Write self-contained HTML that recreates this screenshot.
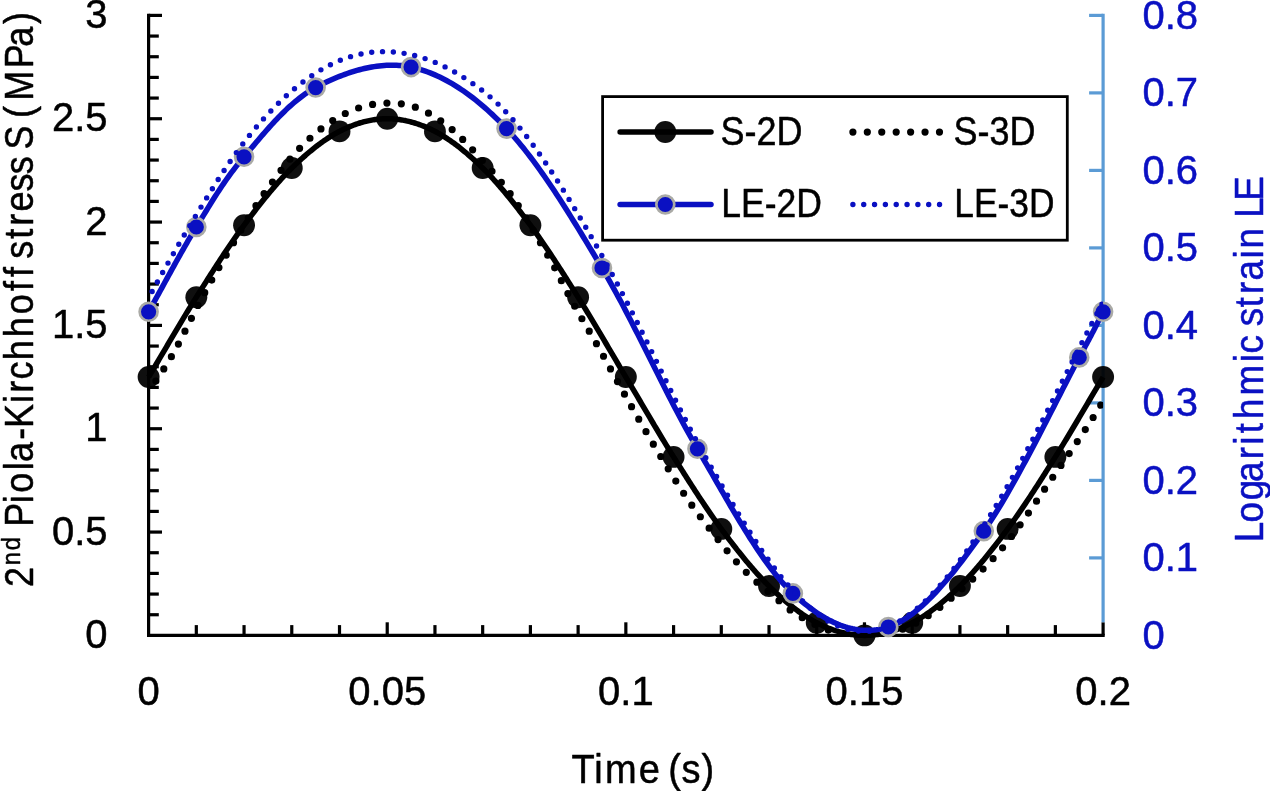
<!DOCTYPE html>
<html lang="en">
<head>
<meta charset="utf-8">
<title>2nd Piola-Kirchhoff stress and logarithmic strain vs time</title>
<style>
html,body{margin:0;padding:0;background:#ffffff;}
body{width:1270px;height:791px;overflow:hidden;}
svg{display:block;}
text{font-family:"Liberation Sans", sans-serif;}
</style>
</head>
<body>
<svg width="1270" height="791" viewBox="0 0 1270 791">
<rect x="0" y="0" width="1270" height="791" fill="#ffffff"/>
<defs><clipPath id="plotd"><rect x="148.60" y="0" width="954.50" height="637.00"/></clipPath></defs>
<g stroke="#000000" stroke-width="3.20" fill="none" stroke-linecap="butt">
<line x1="148.60" y1="13.80" x2="148.60" y2="637.00"/>
<line x1="147.00" y1="635.40" x2="1104.70" y2="635.40"/>
<line x1="148.60" y1="614.73" x2="158.80" y2="614.73"/>
<line x1="148.60" y1="594.07" x2="158.80" y2="594.07"/>
<line x1="148.60" y1="573.40" x2="158.80" y2="573.40"/>
<line x1="148.60" y1="552.73" x2="158.80" y2="552.73"/>
<line x1="148.60" y1="532.07" x2="162.00" y2="532.07"/>
<line x1="148.60" y1="511.40" x2="158.80" y2="511.40"/>
<line x1="148.60" y1="490.73" x2="158.80" y2="490.73"/>
<line x1="148.60" y1="470.07" x2="158.80" y2="470.07"/>
<line x1="148.60" y1="449.40" x2="158.80" y2="449.40"/>
<line x1="148.60" y1="428.73" x2="162.00" y2="428.73"/>
<line x1="148.60" y1="408.07" x2="158.80" y2="408.07"/>
<line x1="148.60" y1="387.40" x2="158.80" y2="387.40"/>
<line x1="148.60" y1="366.73" x2="158.80" y2="366.73"/>
<line x1="148.60" y1="346.07" x2="158.80" y2="346.07"/>
<line x1="148.60" y1="325.40" x2="162.00" y2="325.40"/>
<line x1="148.60" y1="304.73" x2="158.80" y2="304.73"/>
<line x1="148.60" y1="284.07" x2="158.80" y2="284.07"/>
<line x1="148.60" y1="263.40" x2="158.80" y2="263.40"/>
<line x1="148.60" y1="242.73" x2="158.80" y2="242.73"/>
<line x1="148.60" y1="222.07" x2="162.00" y2="222.07"/>
<line x1="148.60" y1="201.40" x2="158.80" y2="201.40"/>
<line x1="148.60" y1="180.73" x2="158.80" y2="180.73"/>
<line x1="148.60" y1="160.07" x2="158.80" y2="160.07"/>
<line x1="148.60" y1="139.40" x2="158.80" y2="139.40"/>
<line x1="148.60" y1="118.73" x2="162.00" y2="118.73"/>
<line x1="148.60" y1="98.07" x2="158.80" y2="98.07"/>
<line x1="148.60" y1="77.40" x2="158.80" y2="77.40"/>
<line x1="148.60" y1="56.73" x2="158.80" y2="56.73"/>
<line x1="148.60" y1="36.07" x2="158.80" y2="36.07"/>
<line x1="148.60" y1="15.40" x2="162.00" y2="15.40"/>
<line x1="196.32" y1="635.40" x2="196.32" y2="625.10"/>
<line x1="244.05" y1="635.40" x2="244.05" y2="625.10"/>
<line x1="291.77" y1="635.40" x2="291.77" y2="625.10"/>
<line x1="339.50" y1="635.40" x2="339.50" y2="625.10"/>
<line x1="387.22" y1="635.40" x2="387.22" y2="622.30"/>
<line x1="434.95" y1="635.40" x2="434.95" y2="625.10"/>
<line x1="482.67" y1="635.40" x2="482.67" y2="625.10"/>
<line x1="530.40" y1="635.40" x2="530.40" y2="625.10"/>
<line x1="578.12" y1="635.40" x2="578.12" y2="625.10"/>
<line x1="625.85" y1="635.40" x2="625.85" y2="622.30"/>
<line x1="673.57" y1="635.40" x2="673.57" y2="625.10"/>
<line x1="721.30" y1="635.40" x2="721.30" y2="625.10"/>
<line x1="769.02" y1="635.40" x2="769.02" y2="625.10"/>
<line x1="816.75" y1="635.40" x2="816.75" y2="625.10"/>
<line x1="864.47" y1="635.40" x2="864.47" y2="622.30"/>
<line x1="912.20" y1="635.40" x2="912.20" y2="625.10"/>
<line x1="959.92" y1="635.40" x2="959.92" y2="625.10"/>
<line x1="1007.65" y1="635.40" x2="1007.65" y2="625.10"/>
<line x1="1055.37" y1="635.40" x2="1055.37" y2="625.10"/>
<line x1="1103.10" y1="635.40" x2="1103.10" y2="622.30"/>
</g>
<g stroke="#5b9bd5" stroke-width="3.20" fill="none">
<line x1="1103.10" y1="13.80" x2="1103.10" y2="622.30"/>
<line x1="1089.10" y1="557.90" x2="1103.10" y2="557.90"/>
<line x1="1089.10" y1="480.40" x2="1103.10" y2="480.40"/>
<line x1="1089.10" y1="402.90" x2="1103.10" y2="402.90"/>
<line x1="1089.10" y1="325.40" x2="1103.10" y2="325.40"/>
<line x1="1089.10" y1="247.90" x2="1103.10" y2="247.90"/>
<line x1="1089.10" y1="170.40" x2="1103.10" y2="170.40"/>
<line x1="1089.10" y1="92.90" x2="1103.10" y2="92.90"/>
<line x1="1089.10" y1="15.40" x2="1103.10" y2="15.40"/>
</g>
<path d="M148.60,377.07 L149.79,375.07 L150.99,373.07 L152.18,371.06 L153.37,369.05 L154.57,367.03 L155.76,365.02 L156.95,363.00 L158.15,360.98 L159.34,358.95 L160.53,356.93 L161.72,354.90 L162.92,352.87 L164.11,350.84 L165.30,348.82 L166.50,346.79 L167.69,344.76 L168.88,342.73 L170.08,340.71 L171.27,338.68 L172.46,336.66 L173.66,334.64 L174.85,332.63 L176.04,330.62 L177.24,328.61 L178.43,326.60 L179.62,324.60 L180.81,322.60 L182.01,320.61 L183.20,318.63 L184.39,316.65 L185.59,314.67 L186.78,312.70 L187.97,310.74 L189.17,308.79 L190.36,306.84 L191.55,304.90 L192.75,302.97 L193.94,301.05 L195.13,299.14 L196.32,297.24 L197.52,295.34 L198.71,293.44 L199.90,291.55 L201.10,289.65 L202.29,287.76 L203.48,285.87 L204.68,283.98 L205.87,282.10 L207.06,280.21 L208.26,278.34 L209.45,276.46 L210.64,274.59 L211.84,272.72 L213.03,270.86 L214.22,269.01 L215.41,267.16 L216.61,265.31 L217.80,263.47 L218.99,261.64 L220.19,259.81 L221.38,257.99 L222.57,256.18 L223.77,254.38 L224.96,252.58 L226.15,250.80 L227.35,249.02 L228.54,247.25 L229.73,245.49 L230.93,243.74 L232.12,242.00 L233.31,240.27 L234.50,238.55 L235.70,236.84 L236.89,235.14 L238.08,233.46 L239.28,231.79 L240.47,230.13 L241.66,228.48 L242.86,226.84 L244.05,225.22 L245.24,223.61 L246.44,222.00 L247.63,220.41 L248.82,218.81 L250.02,217.23 L251.21,215.65 L252.40,214.08 L253.60,212.51 L254.79,210.96 L255.98,209.41 L257.17,207.87 L258.37,206.34 L259.56,204.82 L260.75,203.31 L261.95,201.80 L263.14,200.31 L264.33,198.83 L265.53,197.35 L266.72,195.89 L267.91,194.44 L269.11,193.00 L270.30,191.57 L271.49,190.15 L272.69,188.74 L273.88,187.35 L275.07,185.97 L276.26,184.60 L277.46,183.24 L278.65,181.90 L279.84,180.57 L281.04,179.26 L282.23,177.95 L283.42,176.67 L284.62,175.39 L285.81,174.13 L287.00,172.89 L288.20,171.66 L289.39,170.45 L290.58,169.25 L291.77,168.07 L292.97,166.90 L294.16,165.75 L295.35,164.60 L296.55,163.46 L297.74,162.34 L298.93,161.23 L300.13,160.13 L301.32,159.04 L302.51,157.96 L303.71,156.90 L304.90,155.84 L306.09,154.80 L307.29,153.77 L308.48,152.76 L309.67,151.76 L310.87,150.77 L312.06,149.79 L313.25,148.83 L314.44,147.88 L315.64,146.94 L316.83,146.02 L318.02,145.11 L319.22,144.22 L320.41,143.34 L321.60,142.48 L322.80,141.63 L323.99,140.79 L325.18,139.97 L326.38,139.17 L327.57,138.38 L328.76,137.61 L329.96,136.85 L331.15,136.11 L332.34,135.38 L333.53,134.67 L334.73,133.98 L335.92,133.30 L337.11,132.64 L338.31,132.00 L339.50,131.38 L340.69,130.77 L341.89,130.17 L343.08,129.59 L344.27,129.02 L345.47,128.47 L346.66,127.94 L347.85,127.41 L349.05,126.90 L350.24,126.41 L351.43,125.93 L352.62,125.47 L353.82,125.02 L355.01,124.59 L356.20,124.17 L357.40,123.76 L358.59,123.37 L359.78,123.00 L360.98,122.64 L362.17,122.30 L363.36,121.97 L364.56,121.66 L365.75,121.36 L366.94,121.08 L368.13,120.82 L369.33,120.57 L370.52,120.33 L371.71,120.11 L372.91,119.91 L374.10,119.72 L375.29,119.55 L376.49,119.40 L377.68,119.26 L378.87,119.14 L380.07,119.03 L381.26,118.94 L382.45,118.87 L383.65,118.81 L384.84,118.77 L386.03,118.74 L387.22,118.73 L388.42,118.74 L389.61,118.77 L390.80,118.81 L392.00,118.87 L393.19,118.94 L394.38,119.03 L395.58,119.14 L396.77,119.26 L397.96,119.40 L399.16,119.55 L400.35,119.72 L401.54,119.91 L402.74,120.11 L403.93,120.33 L405.12,120.57 L406.31,120.82 L407.51,121.08 L408.70,121.36 L409.89,121.66 L411.09,121.97 L412.28,122.30 L413.47,122.64 L414.67,123.00 L415.86,123.37 L417.05,123.76 L418.25,124.17 L419.44,124.59 L420.63,125.02 L421.83,125.47 L423.02,125.93 L424.21,126.41 L425.40,126.90 L426.60,127.41 L427.79,127.94 L428.98,128.47 L430.18,129.02 L431.37,129.59 L432.56,130.17 L433.76,130.77 L434.95,131.38 L436.14,132.00 L437.34,132.64 L438.53,133.30 L439.72,133.98 L440.92,134.67 L442.11,135.38 L443.30,136.11 L444.50,136.85 L445.69,137.61 L446.88,138.38 L448.07,139.17 L449.27,139.97 L450.46,140.79 L451.65,141.63 L452.85,142.48 L454.04,143.34 L455.23,144.22 L456.43,145.11 L457.62,146.02 L458.81,146.94 L460.01,147.88 L461.20,148.83 L462.39,149.79 L463.58,150.77 L464.78,151.76 L465.97,152.76 L467.16,153.77 L468.36,154.80 L469.55,155.84 L470.74,156.90 L471.94,157.96 L473.13,159.04 L474.32,160.13 L475.52,161.23 L476.71,162.34 L477.90,163.46 L479.10,164.60 L480.29,165.75 L481.48,166.90 L482.67,168.07 L483.87,169.25 L485.06,170.45 L486.25,171.66 L487.45,172.89 L488.64,174.13 L489.83,175.39 L491.03,176.67 L492.22,177.95 L493.41,179.26 L494.61,180.57 L495.80,181.90 L496.99,183.24 L498.19,184.60 L499.38,185.97 L500.57,187.35 L501.76,188.74 L502.96,190.15 L504.15,191.57 L505.34,193.00 L506.54,194.44 L507.73,195.89 L508.92,197.35 L510.12,198.83 L511.31,200.31 L512.50,201.80 L513.70,203.31 L514.89,204.82 L516.08,206.34 L517.28,207.87 L518.47,209.41 L519.66,210.96 L520.86,212.51 L522.05,214.08 L523.24,215.65 L524.43,217.23 L525.63,218.81 L526.82,220.41 L528.01,222.00 L529.21,223.61 L530.40,225.22 L531.59,226.84 L532.79,228.48 L533.98,230.13 L535.17,231.79 L536.37,233.46 L537.56,235.14 L538.75,236.84 L539.95,238.55 L541.14,240.27 L542.33,242.00 L543.52,243.74 L544.72,245.49 L545.91,247.25 L547.10,249.02 L548.30,250.80 L549.49,252.58 L550.68,254.38 L551.88,256.18 L553.07,257.99 L554.26,259.81 L555.46,261.64 L556.65,263.47 L557.84,265.31 L559.03,267.16 L560.23,269.01 L561.42,270.86 L562.61,272.72 L563.81,274.59 L565.00,276.46 L566.19,278.34 L567.39,280.21 L568.58,282.10 L569.77,283.98 L570.97,285.87 L572.16,287.76 L573.35,289.65 L574.55,291.55 L575.74,293.44 L576.93,295.34 L578.12,297.24 L579.32,299.14 L580.51,301.05 L581.70,302.97 L582.90,304.90 L584.09,306.84 L585.28,308.79 L586.48,310.74 L587.67,312.70 L588.86,314.67 L590.06,316.65 L591.25,318.63 L592.44,320.61 L593.64,322.60 L594.83,324.60 L596.02,326.60 L597.21,328.61 L598.41,330.62 L599.60,332.63 L600.79,334.64 L601.99,336.66 L603.18,338.68 L604.37,340.71 L605.57,342.73 L606.76,344.76 L607.95,346.79 L609.15,348.82 L610.34,350.84 L611.53,352.87 L612.73,354.90 L613.92,356.93 L615.11,358.95 L616.30,360.98 L617.50,363.00 L618.69,365.02 L619.88,367.03 L621.08,369.05 L622.27,371.06 L623.46,373.07 L624.66,375.07 L625.85,377.07 L627.04,379.06 L628.24,381.07 L629.43,383.07 L630.62,385.08 L631.82,387.10 L633.01,389.12 L634.20,391.14 L635.39,393.16 L636.59,395.18 L637.78,397.21 L638.97,399.23 L640.17,401.26 L641.36,403.29 L642.55,405.32 L643.75,407.35 L644.94,409.37 L646.13,411.40 L647.33,413.43 L648.52,415.45 L649.71,417.47 L650.91,419.49 L652.10,421.50 L653.29,423.52 L654.48,425.53 L655.68,427.53 L656.87,429.53 L658.06,431.53 L659.26,433.52 L660.45,435.51 L661.64,437.49 L662.84,439.46 L664.03,441.43 L665.22,443.39 L666.42,445.35 L667.61,447.29 L668.80,449.23 L670.00,451.16 L671.19,453.08 L672.38,454.99 L673.57,456.90 L674.77,458.79 L675.96,460.69 L677.15,462.59 L678.35,464.48 L679.54,466.37 L680.73,468.26 L681.93,470.15 L683.12,472.04 L684.31,473.92 L685.51,475.80 L686.70,477.67 L687.89,479.54 L689.09,481.41 L690.28,483.27 L691.47,485.13 L692.66,486.98 L693.86,488.82 L695.05,490.66 L696.24,492.50 L697.44,494.32 L698.63,496.14 L699.82,497.95 L701.02,499.75 L702.21,501.55 L703.40,503.34 L704.60,505.12 L705.79,506.89 L706.98,508.65 L708.18,510.40 L709.37,512.14 L710.56,513.87 L711.75,515.58 L712.95,517.29 L714.14,518.99 L715.33,520.67 L716.53,522.35 L717.72,524.01 L718.91,525.66 L720.11,527.29 L721.30,528.91 L722.49,530.52 L723.69,532.13 L724.88,533.73 L726.07,535.32 L727.27,536.91 L728.46,538.48 L729.65,540.06 L730.85,541.62 L732.04,543.18 L733.23,544.72 L734.42,546.26 L735.62,547.79 L736.81,549.32 L738.00,550.83 L739.20,552.33 L740.39,553.82 L741.58,555.31 L742.78,556.78 L743.97,558.24 L745.16,559.69 L746.36,561.14 L747.55,562.56 L748.74,563.98 L749.93,565.39 L751.13,566.78 L752.32,568.16 L753.51,569.53 L754.71,570.89 L755.90,572.23 L757.09,573.56 L758.29,574.88 L759.48,576.18 L760.67,577.47 L761.87,578.74 L763.06,580.00 L764.25,581.24 L765.45,582.47 L766.64,583.68 L767.83,584.88 L769.02,586.06 L770.22,587.23 L771.41,588.39 L772.60,589.53 L773.80,590.67 L774.99,591.79 L776.18,592.91 L777.38,594.01 L778.57,595.10 L779.76,596.17 L780.96,597.24 L782.15,598.29 L783.34,599.33 L784.54,600.36 L785.73,601.38 L786.92,602.38 L788.12,603.37 L789.31,604.34 L790.50,605.31 L791.69,606.26 L792.89,607.19 L794.08,608.11 L795.27,609.02 L796.47,609.91 L797.66,610.79 L798.85,611.66 L800.05,612.51 L801.24,613.34 L802.43,614.16 L803.63,614.96 L804.82,615.75 L806.01,616.53 L807.21,617.28 L808.40,618.03 L809.59,618.75 L810.78,619.46 L811.98,620.15 L813.17,620.83 L814.36,621.49 L815.56,622.13 L816.75,622.76 L817.94,623.37 L819.14,623.96 L820.33,624.54 L821.52,625.11 L822.72,625.66 L823.91,626.20 L825.10,626.72 L826.30,627.23 L827.49,627.72 L828.68,628.20 L829.87,628.66 L831.07,629.11 L832.26,629.55 L833.45,629.97 L834.65,630.37 L835.84,630.76 L837.03,631.13 L838.23,631.49 L839.42,631.83 L840.61,632.16 L841.81,632.47 L843.00,632.77 L844.19,633.05 L845.38,633.32 L846.58,633.57 L847.77,633.80 L848.96,634.02 L850.16,634.22 L851.35,634.41 L852.54,634.58 L853.74,634.74 L854.93,634.87 L856.12,635.00 L857.32,635.10 L858.51,635.19 L859.70,635.27 L860.90,635.33 L862.09,635.37 L863.28,635.39 L864.47,635.40 L865.67,635.39 L866.86,635.37 L868.05,635.33 L869.25,635.27 L870.44,635.19 L871.63,635.10 L872.83,635.00 L874.02,634.87 L875.21,634.74 L876.41,634.58 L877.60,634.41 L878.79,634.22 L879.99,634.02 L881.18,633.80 L882.37,633.57 L883.56,633.32 L884.76,633.05 L885.95,632.77 L887.14,632.47 L888.34,632.16 L889.53,631.83 L890.72,631.49 L891.92,631.13 L893.11,630.76 L894.30,630.37 L895.50,629.97 L896.69,629.55 L897.88,629.11 L899.08,628.66 L900.27,628.20 L901.46,627.72 L902.65,627.23 L903.85,626.72 L905.04,626.20 L906.23,625.66 L907.43,625.11 L908.62,624.54 L909.81,623.96 L911.01,623.37 L912.20,622.76 L913.39,622.13 L914.59,621.49 L915.78,620.83 L916.97,620.15 L918.17,619.46 L919.36,618.75 L920.55,618.03 L921.75,617.28 L922.94,616.53 L924.13,615.75 L925.32,614.96 L926.52,614.16 L927.71,613.34 L928.90,612.51 L930.10,611.66 L931.29,610.79 L932.48,609.91 L933.68,609.02 L934.87,608.11 L936.06,607.19 L937.26,606.26 L938.45,605.31 L939.64,604.34 L940.84,603.37 L942.03,602.38 L943.22,601.38 L944.41,600.36 L945.61,599.33 L946.80,598.29 L947.99,597.24 L949.19,596.17 L950.38,595.10 L951.57,594.01 L952.77,592.91 L953.96,591.79 L955.15,590.67 L956.35,589.53 L957.54,588.39 L958.73,587.23 L959.92,586.06 L961.12,584.88 L962.31,583.68 L963.50,582.47 L964.70,581.24 L965.89,580.00 L967.08,578.74 L968.28,577.47 L969.47,576.18 L970.66,574.88 L971.86,573.56 L973.05,572.23 L974.24,570.89 L975.44,569.53 L976.63,568.16 L977.82,566.78 L979.01,565.39 L980.21,563.98 L981.40,562.56 L982.59,561.14 L983.79,559.69 L984.98,558.24 L986.17,556.78 L987.37,555.31 L988.56,553.82 L989.75,552.33 L990.95,550.83 L992.14,549.32 L993.33,547.79 L994.53,546.26 L995.72,544.72 L996.91,543.18 L998.10,541.62 L999.30,540.06 L1000.49,538.48 L1001.68,536.91 L1002.88,535.32 L1004.07,533.73 L1005.26,532.13 L1006.46,530.52 L1007.65,528.91 L1008.84,527.29 L1010.04,525.66 L1011.23,524.01 L1012.42,522.35 L1013.62,520.67 L1014.81,518.99 L1016.00,517.29 L1017.20,515.58 L1018.39,513.87 L1019.58,512.14 L1020.77,510.40 L1021.97,508.65 L1023.16,506.89 L1024.35,505.12 L1025.55,503.34 L1026.74,501.55 L1027.93,499.75 L1029.13,497.95 L1030.32,496.14 L1031.51,494.32 L1032.71,492.50 L1033.90,490.66 L1035.09,488.82 L1036.28,486.98 L1037.48,485.13 L1038.67,483.27 L1039.86,481.41 L1041.06,479.54 L1042.25,477.67 L1043.44,475.80 L1044.64,473.92 L1045.83,472.04 L1047.02,470.15 L1048.22,468.26 L1049.41,466.37 L1050.60,464.48 L1051.80,462.59 L1052.99,460.69 L1054.18,458.79 L1055.37,456.90 L1056.57,454.99 L1057.76,453.08 L1058.95,451.16 L1060.15,449.23 L1061.34,447.29 L1062.53,445.35 L1063.73,443.39 L1064.92,441.43 L1066.11,439.46 L1067.31,437.49 L1068.50,435.51 L1069.69,433.52 L1070.89,431.53 L1072.08,429.53 L1073.27,427.53 L1074.46,425.53 L1075.66,423.52 L1076.85,421.50 L1078.04,419.49 L1079.24,417.47 L1080.43,415.45 L1081.62,413.43 L1082.82,411.40 L1084.01,409.37 L1085.20,407.35 L1086.40,405.32 L1087.59,403.29 L1088.78,401.26 L1089.98,399.23 L1091.17,397.21 L1092.36,395.18 L1093.55,393.16 L1094.75,391.14 L1095.94,389.12 L1097.13,387.10 L1098.33,385.08 L1099.52,383.07 L1100.71,381.07 L1101.91,379.06 L1103.10,377.07" fill="none" stroke="#000000" stroke-width="5.5" stroke-linejoin="round" stroke-linecap="butt"/>
<g fill="#000000" fill-opacity="0.94">
<circle cx="148.60" cy="377.07" r="10.95"/>
<circle cx="196.32" cy="297.24" r="10.95"/>
<circle cx="244.05" cy="225.22" r="10.95"/>
<circle cx="291.77" cy="168.07" r="10.95"/>
<circle cx="339.50" cy="131.38" r="10.95"/>
<circle cx="387.22" cy="118.73" r="10.95"/>
<circle cx="434.95" cy="131.38" r="10.95"/>
<circle cx="482.67" cy="168.07" r="10.95"/>
<circle cx="530.40" cy="225.22" r="10.95"/>
<circle cx="578.12" cy="297.24" r="10.95"/>
<circle cx="625.85" cy="377.07" r="10.95"/>
<circle cx="673.57" cy="456.90" r="10.95"/>
<circle cx="721.30" cy="528.91" r="10.95"/>
<circle cx="769.02" cy="586.06" r="10.95"/>
<circle cx="816.75" cy="622.76" r="10.95"/>
<circle cx="864.47" cy="635.40" r="10.95"/>
<circle cx="912.20" cy="622.76" r="10.95"/>
<circle cx="959.92" cy="586.06" r="10.95"/>
<circle cx="1007.65" cy="528.91" r="10.95"/>
<circle cx="1055.37" cy="456.90" r="10.95"/>
<circle cx="1103.10" cy="377.07" r="10.95"/>
</g>
<g clip-path="url(#plotd)">
<path d="M148.60,392.29 L149.79,390.41 L150.99,388.55 L152.18,386.70 L153.37,384.88 L154.57,383.06 L155.76,381.24 L156.95,379.44 L158.14,377.63 L159.34,375.81 L160.53,373.99 L161.72,372.16 L162.92,370.32 L164.11,368.47 L165.30,366.60 L166.50,364.71 L167.69,362.79 L168.88,360.85 L170.08,358.88 L171.27,356.87 L172.46,354.82 L173.66,352.74 L174.85,350.61 L176.04,348.44 L177.23,346.23 L178.43,343.98 L179.62,341.70 L180.81,339.40 L182.01,337.07 L183.20,334.72 L184.39,332.35 L185.59,329.97 L186.78,327.59 L187.97,325.21 L189.17,322.82 L190.36,320.44 L191.55,318.06 L192.75,315.69 L193.94,313.33 L195.13,310.99 L196.32,308.65 L197.52,306.33 L198.71,304.03 L199.90,301.74 L201.10,299.48 L202.29,297.23 L203.48,295.00 L204.68,292.79 L205.87,290.60 L207.06,288.43 L208.26,286.28 L209.45,284.15 L210.64,282.03 L211.84,279.92 L213.03,277.83 L214.22,275.74 L215.41,273.67 L216.61,271.60 L217.80,269.53 L218.99,267.48 L220.19,265.42 L221.38,263.37 L222.57,261.33 L223.77,259.29 L224.96,257.25 L226.15,255.21 L227.35,253.18 L228.54,251.15 L229.73,249.12 L230.93,247.09 L232.12,245.06 L233.31,243.04 L234.50,241.01 L235.70,238.99 L236.89,236.96 L238.08,234.94 L239.28,232.92 L240.47,230.90 L241.66,228.89 L242.86,226.88 L244.05,224.87 L245.24,222.88 L246.44,220.90 L247.63,218.93 L248.82,216.97 L250.02,215.04 L251.21,213.12 L252.40,211.22 L253.59,209.34 L254.79,207.48 L255.98,205.64 L257.17,203.83 L258.37,202.03 L259.56,200.26 L260.75,198.50 L261.95,196.77 L263.14,195.05 L264.33,193.35 L265.53,191.65 L266.72,189.98 L267.91,188.31 L269.11,186.64 L270.30,184.99 L271.49,183.34 L272.69,181.69 L273.88,180.05 L275.07,178.41 L276.26,176.78 L277.46,175.16 L278.65,173.54 L279.84,171.93 L281.04,170.33 L282.23,168.75 L283.42,167.19 L284.62,165.64 L285.81,164.12 L287.00,162.62 L288.20,161.14 L289.39,159.70 L290.58,158.28 L291.77,156.88 L292.97,155.51 L294.16,154.17 L295.35,152.85 L296.55,151.55 L297.74,150.27 L298.93,149.02 L300.13,147.78 L301.32,146.56 L302.51,145.36 L303.71,144.17 L304.90,143.00 L306.09,141.85 L307.29,140.72 L308.48,139.60 L309.67,138.50 L310.87,137.41 L312.06,136.34 L313.25,135.29 L314.44,134.26 L315.64,133.24 L316.83,132.24 L318.02,131.26 L319.22,130.29 L320.41,129.35 L321.60,128.41 L322.80,127.50 L323.99,126.60 L325.18,125.72 L326.38,124.86 L327.57,124.01 L328.76,123.19 L329.95,122.38 L331.15,121.58 L332.34,120.81 L333.53,120.05 L334.73,119.31 L335.92,118.59 L337.11,117.88 L338.31,117.19 L339.50,116.52 L340.69,115.86 L341.89,115.23 L343.08,114.61 L344.27,114.00 L345.47,113.41 L346.66,112.84 L347.85,112.29 L349.04,111.75 L350.24,111.23 L351.43,110.72 L352.62,110.23 L353.82,109.76 L355.01,109.30 L356.20,108.86 L357.40,108.44 L358.59,108.03 L359.78,107.64 L360.98,107.26 L362.17,106.90 L363.36,106.56 L364.56,106.23 L365.75,105.92 L366.94,105.63 L368.13,105.35 L369.33,105.08 L370.52,104.84 L371.71,104.60 L372.91,104.39 L374.10,104.19 L375.29,104.00 L376.49,103.84 L377.68,103.68 L378.87,103.54 L380.07,103.42 L381.26,103.32 L382.45,103.23 L383.65,103.15 L384.84,103.09 L386.03,103.05 L387.22,103.02 L388.42,103.00 L389.61,103.00 L390.80,103.02 L392.00,103.05 L393.19,103.10 L394.38,103.16 L395.58,103.24 L396.77,103.34 L397.96,103.45 L399.16,103.58 L400.35,103.72 L401.54,103.89 L402.74,104.07 L403.93,104.27 L405.12,104.49 L406.31,104.72 L407.51,104.98 L408.70,105.26 L409.89,105.56 L411.09,105.88 L412.28,106.23 L413.47,106.60 L414.67,106.99 L415.86,107.40 L417.05,107.84 L418.25,108.31 L419.44,108.79 L420.63,109.30 L421.83,109.83 L423.02,110.38 L424.21,110.95 L425.40,111.55 L426.60,112.16 L427.79,112.79 L428.98,113.43 L430.18,114.10 L431.37,114.78 L432.56,115.48 L433.76,116.19 L434.95,116.92 L436.14,117.67 L437.34,118.44 L438.53,119.22 L439.72,120.03 L440.92,120.85 L442.11,121.69 L443.30,122.55 L444.49,123.43 L445.69,124.33 L446.88,125.25 L448.07,126.19 L449.27,127.15 L450.46,128.14 L451.65,129.14 L452.85,130.17 L454.04,131.21 L455.23,132.28 L456.43,133.36 L457.62,134.47 L458.81,135.59 L460.01,136.73 L461.20,137.90 L462.39,139.08 L463.58,140.28 L464.78,141.50 L465.97,142.73 L467.16,143.98 L468.36,145.24 L469.55,146.52 L470.74,147.80 L471.94,149.09 L473.13,150.39 L474.32,151.70 L475.52,153.01 L476.71,154.32 L477.90,155.63 L479.10,156.94 L480.29,158.25 L481.48,159.57 L482.67,160.88 L483.87,162.19 L485.06,163.51 L486.25,164.82 L487.45,166.14 L488.64,167.47 L489.83,168.80 L491.03,170.14 L492.22,171.48 L493.41,172.84 L494.61,174.21 L495.80,175.59 L496.99,176.99 L498.19,178.40 L499.38,179.82 L500.57,181.27 L501.76,182.73 L502.96,184.22 L504.15,185.72 L505.34,187.25 L506.54,188.81 L507.73,190.39 L508.92,192.00 L510.12,193.64 L511.31,195.31 L512.50,197.00 L513.70,198.73 L514.89,200.48 L516.08,202.26 L517.28,204.07 L518.47,205.90 L519.66,207.75 L520.85,209.63 L522.05,211.53 L523.24,213.45 L524.43,215.39 L525.63,217.35 L526.82,219.33 L528.01,221.33 L529.21,223.35 L530.40,225.38 L531.59,227.43 L532.79,229.49 L533.98,231.56 L535.17,233.63 L536.37,235.70 L537.56,237.77 L538.75,239.83 L539.94,241.89 L541.14,243.95 L542.33,246.00 L543.52,248.04 L544.72,250.10 L545.91,252.15 L547.10,254.22 L548.30,256.31 L549.49,258.41 L550.68,260.54 L551.88,262.69 L553.07,264.87 L554.26,267.08 L555.46,269.31 L556.65,271.57 L557.84,273.85 L559.03,276.16 L560.23,278.48 L561.42,280.82 L562.61,283.17 L563.81,285.53 L565.00,287.88 L566.19,290.23 L567.39,292.56 L568.58,294.88 L569.77,297.16 L570.97,299.42 L572.16,301.64 L573.35,303.83 L574.55,305.99 L575.74,308.11 L576.93,310.21 L578.12,312.29 L579.32,314.34 L580.51,316.38 L581.70,318.42 L582.90,320.44 L584.09,322.47 L585.28,324.49 L586.48,326.51 L587.67,328.54 L588.86,330.57 L590.06,332.61 L591.25,334.66 L592.44,336.72 L593.64,338.78 L594.83,340.86 L596.02,342.94 L597.21,345.04 L598.41,347.15 L599.60,349.26 L600.79,351.39 L601.99,353.52 L603.18,355.66 L604.37,357.81 L605.57,359.97 L606.76,362.13 L607.95,364.29 L609.15,366.46 L610.34,368.63 L611.53,370.80 L612.73,372.97 L613.92,375.14 L615.11,377.31 L616.30,379.47 L617.50,381.63 L618.69,383.79 L619.88,385.95 L621.08,388.09 L622.27,390.24 L623.46,392.37 L624.66,394.50 L625.85,396.63 L627.04,398.74 L628.24,400.86 L629.43,402.96 L630.62,405.06 L631.82,407.16 L633.01,409.24 L634.20,411.33 L635.39,413.41 L636.59,415.48 L637.78,417.55 L638.97,419.61 L640.17,421.67 L641.36,423.73 L642.55,425.78 L643.75,427.82 L644.94,429.87 L646.13,431.91 L647.33,433.94 L648.52,435.97 L649.71,438.00 L650.91,440.03 L652.10,442.04 L653.29,444.06 L654.48,446.07 L655.68,448.07 L656.87,450.07 L658.06,452.07 L659.26,454.06 L660.45,456.04 L661.64,458.03 L662.84,460.00 L664.03,461.97 L665.22,463.94 L666.42,465.90 L667.61,467.85 L668.80,469.80 L670.00,471.75 L671.19,473.68 L672.38,475.61 L673.57,477.54 L674.77,479.45 L675.96,481.36 L677.15,483.25 L678.35,485.13 L679.54,487.00 L680.73,488.85 L681.93,490.68 L683.12,492.49 L684.31,494.29 L685.51,496.07 L686.70,497.83 L687.89,499.57 L689.09,501.29 L690.28,502.99 L691.47,504.68 L692.66,506.35 L693.86,508.01 L695.05,509.64 L696.24,511.27 L697.44,512.88 L698.63,514.48 L699.82,516.07 L701.02,517.65 L702.21,519.22 L703.40,520.78 L704.60,522.34 L705.79,523.89 L706.98,525.43 L708.18,526.97 L709.37,528.50 L710.56,530.03 L711.75,531.56 L712.95,533.08 L714.14,534.61 L715.33,536.12 L716.53,537.64 L717.72,539.15 L718.91,540.66 L720.11,542.16 L721.30,543.66 L722.49,545.15 L723.69,546.63 L724.88,548.10 L726.07,549.57 L727.27,551.03 L728.46,552.47 L729.65,553.90 L730.84,555.32 L732.04,556.73 L733.23,558.12 L734.42,559.50 L735.62,560.87 L736.81,562.22 L738.00,563.55 L739.20,564.87 L740.39,566.17 L741.58,567.45 L742.78,568.72 L743.97,569.96 L745.16,571.19 L746.36,572.39 L747.55,573.57 L748.74,574.73 L749.93,575.87 L751.13,576.99 L752.32,578.09 L753.51,579.17 L754.71,580.23 L755.90,581.28 L757.09,582.31 L758.29,583.33 L759.48,584.34 L760.67,585.34 L761.87,586.33 L763.06,587.31 L764.25,588.30 L765.45,589.28 L766.64,590.26 L767.83,591.24 L769.02,592.23 L770.22,593.22 L771.41,594.22 L772.60,595.23 L773.80,596.24 L774.99,597.26 L776.18,598.29 L777.38,599.32 L778.57,600.36 L779.76,601.40 L780.96,602.43 L782.15,603.46 L783.34,604.48 L784.54,605.49 L785.73,606.47 L786.92,607.44 L788.11,608.38 L789.31,609.30 L790.50,610.18 L791.69,611.04 L792.89,611.88 L794.08,612.68 L795.27,613.47 L796.47,614.23 L797.66,614.98 L798.85,615.70 L800.05,616.42 L801.24,617.12 L802.43,617.81 L803.63,618.48 L804.82,619.15 L806.01,619.81 L807.20,620.46 L808.40,621.10 L809.59,621.73 L810.78,622.35 L811.98,622.95 L813.17,623.55 L814.36,624.14 L815.56,624.71 L816.75,625.28 L817.94,625.83 L819.14,626.37 L820.33,626.90 L821.52,627.41 L822.72,627.91 L823.91,628.40 L825.10,628.87 L826.29,629.33 L827.49,629.78 L828.68,630.21 L829.87,630.62 L831.07,631.03 L832.26,631.41 L833.45,631.78 L834.65,632.14 L835.84,632.48 L837.03,632.81 L838.23,633.13 L839.42,633.43 L840.61,633.71 L841.81,633.98 L843.00,634.24 L844.19,634.48 L845.38,634.71 L846.58,634.92 L847.77,635.12 L848.96,635.31 L850.16,635.48 L851.35,635.64 L852.54,635.78 L853.74,635.91 L854.93,636.03 L856.12,636.13 L857.32,636.22 L858.51,636.29 L859.70,636.36 L860.90,636.41 L862.09,636.44 L863.28,636.47 L864.47,636.48" fill="none" stroke="#000000" stroke-width="7.2" stroke-dasharray="0 14.43" stroke-dashoffset="1.00" stroke-linecap="round" stroke-linejoin="round"/>
<path d="M864.47,636.48 L865.67,636.48 L866.86,636.46 L868.05,636.44 L869.25,636.40 L870.44,636.35 L871.63,636.29 L872.83,636.21 L874.02,636.12 L875.21,636.02 L876.41,635.90 L877.60,635.77 L878.79,635.62 L879.99,635.46 L881.18,635.28 L882.37,635.08 L883.56,634.87 L884.76,634.64 L885.95,634.39 L887.14,634.13 L888.34,633.85 L889.53,633.55 L890.72,633.23 L891.92,632.90 L893.11,632.55 L894.30,632.19 L895.50,631.80 L896.69,631.40 L897.88,630.99 L899.08,630.56 L900.27,630.11 L901.46,629.65 L902.65,629.17 L903.85,628.68 L905.04,628.18 L906.23,627.66 L907.43,627.13 L908.62,626.58 L909.81,626.02 L911.01,625.45 L912.20,624.86 L913.39,624.27 L914.59,623.66 L915.78,623.03 L916.97,622.40 L918.17,621.75 L919.36,621.09 L920.55,620.42 L921.74,619.73 L922.94,619.02 L924.13,618.30 L925.32,617.57 L926.52,616.82 L927.71,616.05 L928.90,615.27 L930.10,614.47 L931.29,613.65 L932.48,612.82 L933.68,611.97 L934.87,611.11 L936.06,610.24 L937.26,609.35 L938.45,608.44 L939.64,607.53 L940.83,606.60 L942.03,605.66 L943.22,604.71 L944.41,603.75 L945.61,602.78 L946.80,601.80 L947.99,600.82 L949.19,599.83 L950.38,598.83 L951.57,597.84 L952.77,596.83 L953.96,595.83 L955.15,594.82 L956.35,593.80 L957.54,592.78 L958.73,591.76 L959.92,590.73 L961.12,589.69 L962.31,588.64 L963.50,587.58 L964.70,586.51 L965.89,585.44 L967.08,584.36 L968.28,583.26 L969.47,582.16 L970.66,581.05 L971.86,579.94 L973.05,578.81 L974.24,577.68 L975.44,576.54 L976.63,575.39 L977.82,574.23 L979.01,573.07 L980.21,571.90 L981.40,570.72 L982.59,569.53 L983.79,568.33 L984.98,567.13 L986.17,565.91 L987.37,564.69 L988.56,563.45 L989.75,562.21 L990.95,560.95 L992.14,559.68 L993.33,558.40 L994.53,557.09 L995.72,555.78 L996.91,554.44 L998.10,553.08 L999.30,551.71 L1000.49,550.31 L1001.68,548.90 L1002.88,547.46 L1004.07,546.00 L1005.26,544.53 L1006.46,543.04 L1007.65,541.53 L1008.84,540.00 L1010.04,538.45 L1011.23,536.90 L1012.42,535.32 L1013.62,533.74 L1014.81,532.14 L1016.00,530.53 L1017.19,528.90 L1018.39,527.27 L1019.58,525.62 L1020.77,523.96 L1021.97,522.29 L1023.16,520.60 L1024.35,518.91 L1025.55,517.20 L1026.74,515.49 L1027.93,513.76 L1029.13,512.03 L1030.32,510.29 L1031.51,508.54 L1032.71,506.78 L1033.90,505.02 L1035.09,503.25 L1036.28,501.48 L1037.48,499.71 L1038.67,497.94 L1039.86,496.16 L1041.06,494.40 L1042.25,492.63 L1043.44,490.87 L1044.64,489.11 L1045.83,487.35 L1047.02,485.60 L1048.22,483.86 L1049.41,482.12 L1050.60,480.39 L1051.80,478.66 L1052.99,476.93 L1054.18,475.21 L1055.37,473.49 L1056.57,471.77 L1057.76,470.05 L1058.95,468.33 L1060.15,466.61 L1061.34,464.90 L1062.53,463.18 L1063.73,461.45 L1064.92,459.73 L1066.11,458.00 L1067.31,456.27 L1068.50,454.53 L1069.69,452.79 L1070.89,451.04 L1072.08,449.29 L1073.27,447.53 L1074.46,445.77 L1075.66,444.01 L1076.85,442.24 L1078.04,440.47 L1079.24,438.69 L1080.43,436.91 L1081.62,435.13 L1082.82,433.34 L1084.01,431.54 L1085.20,429.74 L1086.40,427.93 L1087.59,426.10 L1088.78,424.27 L1089.98,422.42 L1091.17,420.57 L1092.36,418.69 L1093.55,416.81 L1094.75,414.92 L1095.94,413.01 L1097.13,411.08 L1098.33,409.15 L1099.52,407.20 L1100.71,405.25 L1101.91,403.28 L1103.10,401.30" fill="none" stroke="#000000" stroke-width="7.2" stroke-dasharray="0 14.43" stroke-dashoffset="4.09" stroke-linecap="round" stroke-linejoin="round"/>
</g>
<path d="M148.60,311.81 L149.79,309.68 L150.99,307.55 L152.18,305.41 L153.37,303.26 L154.57,301.11 L155.76,298.95 L156.95,296.78 L158.15,294.61 L159.34,292.44 L160.53,290.26 L161.72,288.09 L162.92,285.91 L164.11,283.73 L165.30,281.55 L166.50,279.36 L167.69,277.19 L168.88,275.01 L170.08,272.83 L171.27,270.66 L172.46,268.49 L173.66,266.33 L174.85,264.17 L176.04,262.02 L177.24,259.88 L178.43,257.74 L179.62,255.61 L180.81,253.49 L182.01,251.37 L183.20,249.27 L184.39,247.18 L185.59,245.10 L186.78,243.03 L187.97,240.98 L189.17,238.93 L190.36,236.91 L191.55,234.89 L192.75,232.90 L193.94,230.92 L195.13,228.95 L196.32,227.00 L197.51,225.07 L198.68,223.16 L199.84,221.27 L200.99,219.39 L202.13,217.52 L203.26,215.67 L204.38,213.83 L205.49,212.01 L206.60,210.20 L207.70,208.40 L208.80,206.61 L209.89,204.83 L210.98,203.07 L212.08,201.31 L213.17,199.56 L214.27,197.82 L215.37,196.08 L216.47,194.36 L217.58,192.63 L218.70,190.92 L219.82,189.21 L220.95,187.50 L222.09,185.80 L223.24,184.10 L224.41,182.40 L225.58,180.70 L226.77,179.01 L227.98,177.31 L229.20,175.62 L230.44,173.92 L231.70,172.23 L232.98,170.53 L234.28,168.82 L235.60,167.12 L236.94,165.41 L238.31,163.69 L239.70,161.97 L241.13,160.25 L242.57,158.52 L244.05,156.78 L245.55,155.02 L247.06,153.23 L248.59,151.43 L250.13,149.59 L251.69,147.74 L253.27,145.87 L254.86,143.98 L256.46,142.08 L258.08,140.17 L259.71,138.25 L261.36,136.33 L263.02,134.39 L264.70,132.46 L266.39,130.53 L268.10,128.59 L269.82,126.67 L271.56,124.75 L273.31,122.83 L275.08,120.93 L276.86,119.04 L278.66,117.17 L280.47,115.32 L282.30,113.48 L284.14,111.67 L286.00,109.88 L287.87,108.12 L289.75,106.39 L291.66,104.69 L293.57,103.02 L295.50,101.39 L297.45,99.80 L299.41,98.24 L301.39,96.73 L303.38,95.27 L305.38,93.85 L307.40,92.48 L309.44,91.16 L311.49,89.89 L313.56,88.68 L315.64,87.53 L317.74,86.42 L319.87,85.31 L322.03,84.22 L324.22,83.14 L326.43,82.08 L328.66,81.04 L330.92,80.01 L333.20,79.01 L335.50,78.02 L337.82,77.07 L340.16,76.13 L342.52,75.23 L344.89,74.35 L347.28,73.50 L349.68,72.69 L352.10,71.90 L354.53,71.15 L356.97,70.44 L359.41,69.77 L361.87,69.13 L364.34,68.54 L366.81,67.99 L369.28,67.48 L371.76,67.02 L374.25,66.60 L376.73,66.23 L379.22,65.92 L381.70,65.65 L384.18,65.44 L386.67,65.29 L389.14,65.19 L391.62,65.14 L394.08,65.16 L396.54,65.24 L398.99,65.38 L401.44,65.59 L403.87,65.86 L406.29,66.20 L408.69,66.60 L411.09,67.08 L413.47,67.62 L415.86,68.22 L418.25,68.86 L420.63,69.56 L423.02,70.32 L425.40,71.13 L427.79,71.98 L430.18,72.90 L432.56,73.86 L434.95,74.88 L437.34,75.95 L439.72,77.06 L442.11,78.24 L444.49,79.46 L446.88,80.73 L449.27,82.06 L451.65,83.43 L454.04,84.86 L456.43,86.34 L458.81,87.86 L461.20,89.44 L463.58,91.06 L465.97,92.74 L468.36,94.46 L470.74,96.24 L473.13,98.06 L475.52,99.93 L477.90,101.85 L480.29,103.82 L482.67,105.84 L485.06,107.91 L487.45,110.02 L489.83,112.18 L492.22,114.39 L494.61,116.64 L496.99,118.94 L499.38,121.29 L501.76,123.69 L504.15,126.13 L506.54,128.62 L508.92,131.17 L511.31,133.78 L513.70,136.47 L516.08,139.22 L518.47,142.03 L520.85,144.91 L523.24,147.85 L525.63,150.85 L528.01,153.91 L530.40,157.02 L532.79,160.18 L535.17,163.40 L537.56,166.67 L539.94,169.99 L542.33,173.36 L544.72,176.77 L547.10,180.23 L549.49,183.73 L551.88,187.27 L554.26,190.85 L556.65,194.47 L559.03,198.12 L561.42,201.80 L563.81,205.52 L566.19,209.27 L568.58,213.05 L570.97,216.85 L573.35,220.68 L575.74,224.53 L578.12,228.41 L580.51,232.30 L582.90,236.22 L585.28,240.15 L587.67,244.09 L590.06,248.05 L592.44,252.02 L594.83,256.00 L597.22,259.99 L599.60,263.99 L601.99,267.99 L604.37,272.03 L606.76,276.14 L609.15,280.31 L611.53,284.55 L613.92,288.85 L616.30,293.21 L618.69,297.62 L621.08,302.07 L623.46,306.58 L625.85,311.12 L628.24,315.70 L630.62,320.32 L633.01,324.97 L635.39,329.64 L637.78,334.34 L640.17,339.06 L642.55,343.79 L644.94,348.54 L647.33,353.29 L649.71,358.06 L652.10,362.82 L654.48,367.58 L656.87,372.33 L659.26,377.08 L661.64,381.81 L664.03,386.53 L666.42,391.22 L668.80,395.90 L671.19,400.54 L673.57,405.15 L675.96,409.73 L678.35,414.27 L680.73,418.77 L683.12,423.23 L685.51,427.63 L687.89,431.98 L690.28,436.27 L692.66,440.51 L695.05,444.68 L697.44,448.78 L699.82,452.86 L702.21,456.96 L704.60,461.08 L706.98,465.21 L709.37,469.35 L711.75,473.50 L714.14,477.65 L716.53,481.80 L718.91,485.95 L721.30,490.09 L723.69,494.22 L726.07,498.33 L728.46,502.43 L730.84,506.50 L733.23,510.55 L735.62,514.57 L738.00,518.56 L740.39,522.52 L742.78,526.43 L745.16,530.30 L747.55,534.13 L749.93,537.91 L752.32,541.63 L754.71,545.30 L757.09,548.91 L759.48,552.45 L761.87,555.93 L764.25,559.33 L766.64,562.67 L769.02,565.92 L771.41,569.09 L773.80,572.18 L776.18,575.18 L778.57,578.09 L780.96,580.91 L783.34,583.62 L785.73,586.23 L788.12,588.74 L790.50,591.14 L792.89,593.42 L795.27,595.62 L797.66,597.76 L800.05,599.84 L802.43,601.86 L804.82,603.82 L807.20,605.72 L809.59,607.55 L811.98,609.32 L814.36,611.02 L816.75,612.66 L819.14,614.23 L821.52,615.74 L823.91,617.17 L826.29,618.54 L828.68,619.84 L831.07,621.06 L833.45,622.22 L835.84,623.30 L838.23,624.31 L840.61,625.24 L843.00,626.10 L845.38,626.88 L847.77,627.59 L850.16,628.22 L852.54,628.77 L854.93,629.24 L857.32,629.63 L859.70,629.94 L862.09,630.16 L864.47,630.31 L866.86,630.37 L869.25,630.34 L871.63,630.23 L874.02,630.04 L876.41,629.75 L878.79,629.38 L881.18,628.92 L883.56,628.37 L885.95,627.73 L888.34,626.99 L890.72,626.16 L893.11,625.21 L895.50,624.16 L897.88,623.00 L900.27,621.74 L902.65,620.37 L905.04,618.91 L907.43,617.35 L909.81,615.69 L912.20,613.95 L914.59,612.12 L916.97,610.20 L919.36,608.19 L921.74,606.10 L924.13,603.94 L926.52,601.70 L928.90,599.38 L931.29,596.99 L933.68,594.53 L936.06,592.01 L938.45,589.42 L940.83,586.76 L943.22,584.05 L945.61,581.28 L947.99,578.46 L950.38,575.58 L952.77,572.65 L955.15,569.67 L957.54,566.65 L959.92,563.59 L962.31,560.48 L964.70,557.34 L967.08,554.16 L969.47,550.95 L971.86,547.70 L974.24,544.43 L976.63,541.13 L979.01,537.81 L981.40,534.47 L983.79,531.11 L986.20,527.65 L988.65,524.03 L991.13,520.24 L993.65,516.31 L996.21,512.24 L998.79,508.04 L1001.40,503.73 L1004.02,499.30 L1006.67,494.77 L1009.33,490.15 L1012.00,485.45 L1014.68,480.68 L1017.36,475.85 L1020.05,470.96 L1022.73,466.04 L1025.40,461.08 L1028.07,456.09 L1030.73,451.10 L1033.37,446.10 L1035.99,441.11 L1038.58,436.13 L1041.16,431.18 L1043.70,426.26 L1046.21,421.39 L1048.69,416.57 L1051.12,411.82 L1053.52,407.14 L1055.86,402.54 L1058.16,398.04 L1060.41,393.64 L1062.60,389.35 L1064.73,385.18 L1066.80,381.15 L1068.80,377.25 L1070.73,373.51 L1072.59,369.93 L1074.38,366.51 L1076.08,363.28 L1077.70,360.24 L1079.24,357.39 L1080.68,354.73 L1082.05,352.22 L1083.32,349.86 L1084.52,347.65 L1085.65,345.56 L1086.70,343.61 L1087.68,341.78 L1088.59,340.08 L1089.44,338.48 L1090.24,336.99 L1090.97,335.60 L1091.66,334.30 L1092.29,333.09 L1092.88,331.96 L1093.43,330.91 L1093.94,329.93 L1094.41,329.02 L1094.85,328.16 L1095.26,327.35 L1095.64,326.59 L1096.01,325.87 L1096.35,325.19 L1096.68,324.53 L1096.99,323.89 L1097.30,323.27 L1097.60,322.66 L1097.90,322.05 L1098.20,321.45 L1098.50,320.83 L1098.81,320.20 L1099.14,319.55 L1099.47,318.87 L1099.83,318.17 L1100.21,317.42 L1100.61,316.63 L1101.04,315.79 L1101.50,314.89 L1101.99,313.93 L1102.53,312.91 L1103.10,311.81" fill="none" stroke="#0a10c2" stroke-width="5.5" stroke-linejoin="round" stroke-linecap="butt"/>
<circle cx="148.60" cy="311.81" r="8.95" fill="#0a10c2" stroke="#aaaaa6" stroke-width="2.70"/>
<circle cx="196.32" cy="227.00" r="8.95" fill="#0a10c2" stroke="#aaaaa6" stroke-width="2.70"/>
<circle cx="244.05" cy="156.78" r="8.95" fill="#0a10c2" stroke="#aaaaa6" stroke-width="2.70"/>
<circle cx="315.64" cy="87.53" r="8.95" fill="#0a10c2" stroke="#aaaaa6" stroke-width="2.70"/>
<circle cx="411.09" cy="67.08" r="8.95" fill="#0a10c2" stroke="#aaaaa6" stroke-width="2.70"/>
<circle cx="506.54" cy="128.62" r="8.95" fill="#0a10c2" stroke="#aaaaa6" stroke-width="2.70"/>
<circle cx="601.99" cy="267.99" r="8.95" fill="#0a10c2" stroke="#aaaaa6" stroke-width="2.70"/>
<circle cx="697.44" cy="448.78" r="8.95" fill="#0a10c2" stroke="#aaaaa6" stroke-width="2.70"/>
<circle cx="792.89" cy="593.42" r="8.95" fill="#0a10c2" stroke="#aaaaa6" stroke-width="2.70"/>
<circle cx="888.34" cy="626.99" r="8.95" fill="#0a10c2" stroke="#aaaaa6" stroke-width="2.70"/>
<circle cx="983.79" cy="531.11" r="8.95" fill="#0a10c2" stroke="#aaaaa6" stroke-width="2.70"/>
<circle cx="1079.24" cy="357.39" r="8.95" fill="#0a10c2" stroke="#aaaaa6" stroke-width="2.70"/>
<circle cx="1103.10" cy="311.81" r="8.95" fill="#0a10c2" stroke="#aaaaa6" stroke-width="2.70"/>
<g clip-path="url(#plotd)">
<path d="M148.60,297.87 L149.79,295.68 L150.99,293.50 L152.18,291.33 L153.37,289.17 L154.57,287.01 L155.76,284.85 L156.95,282.71 L158.14,280.57 L159.34,278.43 L160.53,276.30 L161.72,274.18 L162.92,272.06 L164.11,269.94 L165.30,267.83 L166.50,265.73 L167.69,263.63 L168.88,261.53 L170.08,259.44 L171.27,257.36 L172.46,255.27 L173.66,253.20 L174.85,251.13 L176.04,249.06 L177.23,247.00 L178.43,244.95 L179.62,242.90 L180.81,240.85 L182.01,238.82 L183.20,236.78 L184.39,234.76 L185.59,232.74 L186.78,230.72 L187.97,228.71 L189.17,226.71 L190.36,224.71 L191.55,222.72 L192.75,220.73 L193.94,218.75 L195.13,216.77 L196.32,214.80 L197.52,212.83 L198.71,210.87 L199.90,208.91 L201.10,206.96 L202.29,205.01 L203.48,203.06 L204.68,201.12 L205.87,199.18 L207.06,197.25 L208.26,195.32 L209.45,193.40 L210.64,191.49 L211.84,189.58 L213.03,187.68 L214.22,185.78 L215.41,183.89 L216.61,182.01 L217.80,180.14 L218.99,178.28 L220.19,176.43 L221.38,174.59 L222.57,172.76 L223.77,170.94 L224.96,169.14 L226.15,167.34 L227.35,165.56 L228.54,163.80 L229.73,162.05 L230.93,160.31 L232.12,158.59 L233.31,156.88 L234.50,155.19 L235.70,153.52 L236.89,151.86 L238.08,150.22 L239.28,148.60 L240.47,146.99 L241.66,145.40 L242.86,143.82 L244.05,142.26 L245.24,140.72 L246.44,139.19 L247.63,137.67 L248.82,136.17 L250.02,134.69 L251.21,133.22 L252.40,131.77 L253.59,130.32 L254.79,128.90 L255.98,127.48 L257.17,126.08 L258.37,124.69 L259.56,123.32 L260.75,121.95 L261.95,120.60 L263.14,119.27 L264.33,117.94 L265.53,116.63 L266.72,115.33 L267.91,114.04 L269.11,112.77 L270.30,111.51 L271.49,110.26 L272.69,109.02 L273.88,107.80 L275.07,106.59 L276.26,105.39 L277.46,104.21 L278.65,103.04 L279.84,101.88 L281.04,100.73 L282.23,99.59 L283.42,98.47 L284.62,97.36 L285.81,96.27 L287.00,95.18 L288.20,94.11 L289.39,93.06 L290.58,92.01 L291.77,90.98 L292.97,89.96 L294.16,88.96 L295.35,87.96 L296.55,86.98 L297.74,86.02 L298.93,85.06 L300.13,84.12 L301.32,83.19 L302.51,82.28 L303.71,81.37 L304.90,80.49 L306.09,79.61 L307.29,78.75 L308.48,77.90 L309.67,77.06 L310.87,76.24 L312.06,75.43 L313.25,74.63 L314.44,73.85 L315.64,73.08 L316.83,72.32 L318.02,71.58 L319.22,70.85 L320.41,70.14 L321.60,69.44 L322.80,68.75 L323.99,68.08 L325.18,67.42 L326.38,66.77 L327.57,66.14 L328.76,65.53 L329.95,64.92 L331.15,64.33 L332.34,63.76 L333.53,63.19 L334.73,62.65 L335.92,62.11 L337.11,61.59 L338.31,61.08 L339.50,60.59 L340.69,60.11 L341.89,59.65 L343.08,59.19 L344.27,58.75 L345.47,58.33 L346.66,57.92 L347.85,57.52 L349.04,57.13 L350.24,56.76 L351.43,56.40 L352.62,56.06 L353.82,55.73 L355.01,55.41 L356.20,55.10 L357.40,54.81 L358.59,54.53 L359.78,54.27 L360.98,54.01 L362.17,53.77 L363.36,53.55 L364.56,53.33 L365.75,53.13 L366.94,52.94 L368.13,52.76 L369.33,52.60 L370.52,52.45 L371.71,52.31 L372.91,52.19 L374.10,52.07 L375.29,51.97 L376.49,51.89 L377.68,51.81 L378.87,51.75 L380.07,51.70 L381.26,51.66 L382.45,51.64 L383.65,51.63 L384.84,51.63 L386.03,51.64 L387.22,51.67 L388.42,51.71 L389.61,51.76 L390.80,51.82 L392.00,51.90 L393.19,51.99 L394.38,52.09 L395.58,52.20 L396.77,52.33 L397.96,52.47 L399.16,52.62 L400.35,52.78 L401.54,52.95 L402.74,53.13 L403.93,53.33 L405.12,53.53 L406.31,53.75 L407.51,53.97 L408.70,54.21 L409.89,54.46 L411.09,54.72 L412.28,54.99 L413.47,55.27 L414.67,55.57 L415.86,55.87 L417.05,56.18 L418.25,56.51 L419.44,56.85 L420.63,57.19 L421.83,57.55 L423.02,57.92 L424.21,58.30 L425.40,58.70 L426.60,59.10 L427.79,59.52 L428.98,59.95 L430.18,60.39 L431.37,60.84 L432.56,61.30 L433.76,61.78 L434.95,62.27 L436.14,62.77 L437.34,63.28 L438.53,63.80 L439.72,64.34 L440.92,64.89 L442.11,65.45 L443.30,66.02 L444.49,66.60 L445.69,67.20 L446.88,67.80 L448.07,68.42 L449.27,69.05 L450.46,69.69 L451.65,70.35 L452.85,71.01 L454.04,71.69 L455.23,72.37 L456.43,73.07 L457.62,73.77 L458.81,74.49 L460.01,75.21 L461.20,75.94 L462.39,76.69 L463.58,77.44 L464.78,78.20 L465.97,78.97 L467.16,79.75 L468.36,80.54 L469.55,81.34 L470.74,82.15 L471.94,82.97 L473.13,83.80 L474.32,84.63 L475.52,85.48 L476.71,86.34 L477.90,87.22 L479.10,88.10 L480.29,88.99 L481.48,89.90 L482.67,90.82 L483.87,91.76 L485.06,92.71 L486.25,93.67 L487.45,94.65 L488.64,95.65 L489.83,96.66 L491.03,97.68 L492.22,98.73 L493.41,99.79 L494.61,100.87 L495.80,101.96 L496.99,103.08 L498.19,104.21 L499.38,105.36 L500.57,106.53 L501.76,107.71 L502.96,108.92 L504.15,110.15 L505.34,111.39 L506.54,112.65 L507.73,113.93 L508.92,115.23 L510.12,116.55 L511.31,117.88 L512.50,119.23 L513.70,120.60 L514.89,121.99 L516.08,123.40 L517.28,124.82 L518.47,126.25 L519.66,127.71 L520.85,129.17 L522.05,130.66 L523.24,132.16 L524.43,133.67 L525.63,135.20 L526.82,136.75 L528.01,138.31 L529.21,139.88 L530.40,141.47 L531.59,143.07 L532.79,144.68 L533.98,146.31 L535.17,147.96 L536.37,149.61 L537.56,151.28 L538.75,152.96 L539.94,154.66 L541.14,156.36 L542.33,158.08 L543.52,159.81 L544.72,161.55 L545.91,163.31 L547.10,165.07 L548.30,166.85 L549.49,168.64 L550.68,170.44 L551.88,172.25 L553.07,174.07 L554.26,175.89 L555.46,177.73 L556.65,179.58 L557.84,181.44 L559.03,183.31 L560.23,185.19 L561.42,187.08 L562.61,188.97 L563.81,190.88 L565.00,192.79 L566.19,194.71 L567.39,196.64 L568.58,198.58 L569.77,200.52 L570.97,202.48 L572.16,204.44 L573.35,206.41 L574.55,208.38 L575.74,210.36 L576.93,212.35 L578.12,214.35 L579.32,216.36 L580.51,218.37 L581.70,220.39 L582.90,222.41 L584.09,224.45 L585.28,226.49 L586.48,228.53 L587.67,230.59 L588.86,232.65 L590.06,234.72 L591.25,236.80 L592.44,238.88 L593.64,240.97 L594.83,243.07 L596.02,245.17 L597.21,247.29 L598.41,249.41 L599.60,251.53 L600.79,253.67 L601.99,255.81 L603.18,257.96 L604.37,260.11 L605.57,262.28 L606.76,264.45 L607.95,266.62 L609.15,268.81 L610.34,271.00 L611.53,273.20 L612.73,275.41 L613.92,277.62 L615.11,279.84 L616.30,282.07 L617.50,284.31 L618.69,286.56 L619.88,288.81 L621.08,291.07 L622.27,293.34 L623.46,295.61 L624.66,297.90 L625.85,300.19 L627.04,302.49 L628.24,304.80 L629.43,307.11 L630.62,309.44 L631.82,311.77 L633.01,314.11 L634.20,316.46 L635.39,318.82 L636.59,321.18 L637.78,323.55 L638.97,325.93 L640.17,328.32 L641.36,330.71 L642.55,333.11 L643.75,335.51 L644.94,337.92 L646.13,340.34 L647.33,342.76 L648.52,345.18 L649.71,347.61 L650.91,350.04 L652.10,352.47 L653.29,354.90 L654.48,357.34 L655.68,359.78 L656.87,362.22 L658.06,364.66 L659.26,367.11 L660.45,369.55 L661.64,371.99 L662.84,374.43 L664.03,376.87 L665.22,379.30 L666.42,381.74 L667.61,384.17 L668.80,386.59 L670.00,389.02 L671.19,391.44 L672.38,393.85 L673.57,396.26 L674.77,398.66 L675.96,401.06 L677.15,403.45 L678.35,405.84 L679.54,408.21 L680.73,410.58 L681.93,412.94 L683.12,415.29 L684.31,417.63 L685.51,419.96 L686.70,422.28 L687.89,424.59 L689.09,426.89 L690.28,429.17 L691.47,431.45 L692.66,433.71 L693.86,435.95 L695.05,438.19 L696.24,440.41 L697.44,442.61 L698.63,444.81 L699.82,446.99 L701.02,449.15 L702.21,451.31 L703.40,453.45 L704.60,455.58 L705.79,457.70 L706.98,459.81 L708.18,461.91 L709.37,464.00 L710.56,466.08 L711.75,468.16 L712.95,470.23 L714.14,472.30 L715.33,474.36 L716.53,476.42 L717.72,478.48 L718.91,480.53 L720.11,482.58 L721.30,484.63 L722.49,486.67 L723.69,488.71 L724.88,490.75 L726.07,492.79 L727.27,494.82 L728.46,496.85 L729.65,498.88 L730.84,500.90 L732.04,502.91 L733.23,504.92 L734.42,506.92 L735.62,508.92 L736.81,510.91 L738.00,512.89 L739.20,514.86 L740.39,516.83 L741.58,518.78 L742.78,520.73 L743.97,522.67 L745.16,524.60 L746.36,526.53 L747.55,528.44 L748.74,530.34 L749.93,532.23 L751.13,534.11 L752.32,535.98 L753.51,537.84 L754.71,539.69 L755.90,541.53 L757.09,543.35 L758.29,545.17 L759.48,546.96 L760.67,548.75 L761.87,550.52 L763.06,552.27 L764.25,554.01 L765.45,555.74 L766.64,557.45 L767.83,559.14 L769.02,560.81 L770.22,562.47 L771.41,564.12 L772.60,565.74 L773.80,567.35 L774.99,568.94 L776.18,570.52 L777.38,572.07 L778.57,573.61 L779.76,575.14 L780.96,576.64 L782.15,578.13 L783.34,579.61 L784.54,581.06 L785.73,582.50 L786.92,583.93 L788.11,585.33 L789.31,586.73 L790.50,588.10 L791.69,589.46 L792.89,590.80 L794.08,592.12 L795.27,593.43 L796.47,594.72 L797.66,595.99 L798.85,597.25 L800.05,598.48 L801.24,599.69 L802.43,600.89 L803.63,602.06 L804.82,603.22 L806.01,604.35 L807.20,605.46 L808.40,606.54 L809.59,607.61 L810.78,608.65 L811.98,609.66 L813.17,610.65 L814.36,611.62 L815.56,612.56 L816.75,613.48 L817.94,614.37 L819.14,615.24 L820.33,616.08 L821.52,616.90 L822.72,617.69 L823.91,618.47 L825.10,619.21 L826.29,619.94 L827.49,620.64 L828.68,621.32 L829.87,621.98 L831.07,622.61 L832.26,623.22 L833.45,623.81 L834.65,624.38 L835.84,624.92 L837.03,625.45 L838.23,625.95 L839.42,626.43 L840.61,626.88 L841.81,627.32 L843.00,627.73 L844.19,628.12 L845.38,628.49 L846.58,628.84 L847.77,629.16 L848.96,629.46 L850.16,629.74 L851.35,630.00 L852.54,630.23 L853.74,630.45 L854.93,630.64 L856.12,630.80 L857.32,630.95 L858.51,631.07 L859.70,631.17 L860.90,631.25 L862.09,631.30 L863.28,631.34 L864.47,631.34 L865.67,631.33 L866.86,631.30 L868.05,631.24 L869.25,631.16 L870.44,631.05 L871.63,630.92 L872.83,630.77 L874.02,630.60 L875.21,630.41 L876.41,630.19 L877.60,629.95 L878.79,629.68 L879.99,629.39 L881.18,629.08 L882.37,628.75 L883.56,628.39 L884.76,628.02 L885.95,627.61 L887.14,627.19 L888.34,626.74 L889.53,626.26 L890.72,625.76 L891.92,625.24 L893.11,624.69 L894.30,624.12 L895.50,623.52 L896.69,622.90 L897.88,622.25 L899.08,621.58 L900.27,620.88 L901.46,620.16 L902.65,619.41 L903.85,618.64 L905.04,617.84 L906.23,617.02 L907.43,616.17 L908.62,615.30 L909.81,614.41 L911.01,613.50 L912.20,612.56 L913.39,611.60 L914.59,610.63 L915.78,609.63 L916.97,608.62 L918.17,607.58 L919.36,606.53 L920.55,605.46 L921.74,604.37 L922.94,603.27 L924.13,602.14 L925.32,601.01 L926.52,599.85 L927.71,598.68 L928.90,597.49 L930.10,596.28 L931.29,595.06 L932.48,593.82 L933.68,592.56 L934.87,591.28 L936.06,589.99 L937.26,588.68 L938.45,587.35 L939.64,586.01 L940.83,584.64 L942.03,583.26 L943.22,581.86 L944.41,580.44 L945.61,579.01 L946.80,577.56 L947.99,576.09 L949.19,574.60 L950.38,573.10 L951.57,571.58 L952.77,570.04 L953.96,568.49 L955.15,566.93 L956.35,565.35 L957.54,563.76 L958.73,562.15 L959.92,560.53 L961.12,558.90 L962.31,557.25 L963.50,555.59 L964.70,553.92 L965.89,552.24 L967.08,550.55 L968.28,548.85 L969.47,547.13 L970.66,545.40 L971.86,543.67 L973.05,541.92 L974.24,540.16 L975.44,538.39 L976.63,536.60 L977.82,534.81 L979.01,533.00 L980.21,531.18 L981.40,529.35 L982.59,527.51 L983.79,525.65 L984.98,523.78 L986.17,521.90 L987.37,520.01 L988.56,518.10 L989.75,516.18 L990.95,514.25 L992.14,512.31 L993.33,510.35 L994.53,508.38 L995.72,506.39 L996.91,504.40 L998.10,502.39 L999.30,500.37 L1000.49,498.33 L1001.68,496.28 L1002.88,494.22 L1004.07,492.15 L1005.26,490.07 L1006.46,487.97 L1007.65,485.87 L1008.84,483.75 L1010.04,481.62 L1011.23,479.48 L1012.42,477.33 L1013.62,475.17 L1014.81,473.00 L1016.00,470.82 L1017.19,468.63 L1018.39,466.44 L1019.58,464.23 L1020.77,462.02 L1021.97,459.80 L1023.16,457.57 L1024.35,455.33 L1025.55,453.09 L1026.74,450.84 L1027.93,448.58 L1029.13,446.32 L1030.32,444.05 L1031.51,441.77 L1032.71,439.49 L1033.90,437.20 L1035.09,434.91 L1036.28,432.61 L1037.48,430.30 L1038.67,427.99 L1039.86,425.67 L1041.06,423.35 L1042.25,421.02 L1043.44,418.69 L1044.64,416.35 L1045.83,414.01 L1047.02,411.67 L1048.22,409.32 L1049.41,406.97 L1050.60,404.62 L1051.80,402.26 L1052.99,399.90 L1054.18,397.54 L1055.37,395.17 L1056.57,392.81 L1057.76,390.44 L1058.95,388.07 L1060.15,385.70 L1061.34,383.34 L1062.53,380.97 L1063.73,378.60 L1064.92,376.23 L1066.11,373.87 L1067.31,371.50 L1068.50,369.14 L1069.69,366.78 L1070.89,364.42 L1072.08,362.06 L1073.27,359.71 L1074.46,357.36 L1075.66,355.01 L1076.85,352.66 L1078.04,350.32 L1079.24,347.98 L1080.43,345.64 L1081.62,343.31 L1082.82,340.98 L1084.01,338.65 L1085.20,336.33 L1086.40,334.02 L1087.59,331.70 L1088.78,329.39 L1089.98,327.09 L1091.17,324.79 L1092.36,322.50 L1093.55,320.21 L1094.75,317.92 L1095.94,315.64 L1097.13,313.37 L1098.33,311.11 L1099.52,308.84 L1100.71,306.59 L1101.91,304.34 L1103.10,302.10" fill="none" stroke="#0a10c2" stroke-width="5.4" stroke-dasharray="0 10.83" stroke-dashoffset="3.5" stroke-linecap="round" stroke-linejoin="round"/>
</g>
<rect x="602.6" y="96.6" width="464.7" height="143.6" fill="#ffffff" stroke="#000000" stroke-width="2.8"/>
<line x1="620.1" y1="132.1" x2="711.0" y2="132.1" stroke="#000000" stroke-width="5.5" stroke-linecap="round"/>
<circle cx="665.3" cy="132.0" r="10.95" fill="#000000" fill-opacity="0.94"/>
<line x1="852.9" y1="132.1" x2="939.6" y2="132.1" stroke="#000000" stroke-width="7.2" stroke-dasharray="0 14.43" stroke-linecap="round"/>
<line x1="620.1" y1="204.5" x2="711.0" y2="204.5" stroke="#0a10c2" stroke-width="5.5" stroke-linecap="round"/>
<circle cx="665.3" cy="204.5" r="8.95" fill="#0a10c2" stroke="#aaaaa6" stroke-width="2.70"/>
<line x1="852.9" y1="204.5" x2="939.7" y2="204.5" stroke="#0a10c2" stroke-width="5.4" stroke-dasharray="0 10.83" stroke-linecap="round"/>
<g font-family='"Liberation Sans", sans-serif' stroke-width="0.5" stroke-linejoin="round">
<text transform="translate(720.50,145.00) scale(0.9000,1)" text-anchor="start" fill="#000000" stroke="#000000" font-size="40" >S-2D</text>
<text transform="translate(953.50,145.00) scale(0.9000,1)" text-anchor="start" fill="#000000" stroke="#000000" font-size="40" >S-3D</text>
<text transform="translate(721.30,217.10) scale(0.8880,1)" text-anchor="start" fill="#000000" stroke="#000000" font-size="40" >LE-2D</text>
<text transform="translate(954.30,217.10) scale(0.8840,1)" text-anchor="start" fill="#000000" stroke="#000000" font-size="40" >LE-3D</text>
<text transform="translate(107.60,648.00)" text-anchor="end" fill="#000000" stroke="#000000" font-size="40" >0</text>
<text transform="translate(107.60,544.67)" text-anchor="end" fill="#000000" stroke="#000000" font-size="40" >0.5</text>
<text transform="translate(107.60,441.33)" text-anchor="end" fill="#000000" stroke="#000000" font-size="40" >1</text>
<text transform="translate(107.60,338.00)" text-anchor="end" fill="#000000" stroke="#000000" font-size="40" >1.5</text>
<text transform="translate(107.60,234.67)" text-anchor="end" fill="#000000" stroke="#000000" font-size="40" >2</text>
<text transform="translate(107.60,131.33)" text-anchor="end" fill="#000000" stroke="#000000" font-size="40" >2.5</text>
<text transform="translate(107.60,28.00)" text-anchor="end" fill="#000000" stroke="#000000" font-size="40" >3</text>
<text transform="translate(148.60,705.20)" text-anchor="middle" fill="#000000" stroke="#000000" font-size="40" >0</text>
<text transform="translate(387.22,705.20)" text-anchor="middle" fill="#000000" stroke="#000000" font-size="40" >0.05</text>
<text transform="translate(625.85,705.20)" text-anchor="middle" fill="#000000" stroke="#000000" font-size="40" >0.1</text>
<text transform="translate(864.47,705.20)" text-anchor="middle" fill="#000000" stroke="#000000" font-size="40" >0.15</text>
<text transform="translate(1103.10,705.20)" text-anchor="middle" fill="#000000" stroke="#000000" font-size="40" >0.2</text>
<text transform="translate(1142.50,648.60)" text-anchor="start" fill="#0a10c2" stroke="#0a10c2" font-size="40" >0</text>
<text transform="translate(1142.50,571.10)" text-anchor="start" fill="#0a10c2" stroke="#0a10c2" font-size="40" >0.1</text>
<text transform="translate(1142.50,493.60)" text-anchor="start" fill="#0a10c2" stroke="#0a10c2" font-size="40" >0.2</text>
<text transform="translate(1142.50,416.10)" text-anchor="start" fill="#0a10c2" stroke="#0a10c2" font-size="40" >0.3</text>
<text transform="translate(1142.50,338.60)" text-anchor="start" fill="#0a10c2" stroke="#0a10c2" font-size="40" >0.4</text>
<text transform="translate(1142.50,261.10)" text-anchor="start" fill="#0a10c2" stroke="#0a10c2" font-size="40" >0.5</text>
<text transform="translate(1142.50,183.60)" text-anchor="start" fill="#0a10c2" stroke="#0a10c2" font-size="40" >0.6</text>
<text transform="translate(1142.50,106.10)" text-anchor="start" fill="#0a10c2" stroke="#0a10c2" font-size="40" >0.7</text>
<text transform="translate(1142.50,28.60)" text-anchor="start" fill="#0a10c2" stroke="#0a10c2" font-size="40" >0.8</text>
<text transform="translate(573.00,783.40) scale(0.9500,1)" x="-1.46 22.34 33.67 69.24 81.24 100.18 114.30 135.26" y="0" fill="#000000" stroke="#000000" font-size="40">Time (s)</text>
<text transform="translate(1262.80,540.00) rotate(-90) scale(0.9200,1)" x="-2.40 18.93 43.27 63.16 87.74 103.60 115.90 131.47 157.05 193.16 202.61 214.61 232.26 252.91 267.30 281.97 305.99 316.96 328.96 350.21 368.81" y="0" fill="#0a10c2" stroke="#0a10c2" font-size="40">Logarithmic strain LE</text>
<text transform="translate(32.90,588.00) rotate(-90) scale(0.9000,1)" x="0.99 25.41 41.96 53.96 68.18 94.17 105.93 130.83 140.00 164.76 177.90 205.44 217.08 231.57 252.97 278.69 304.21 330.12 345.57 357.57 365.86 388.04 402.53 418.21 440.69 459.81 471.81 487.36 499.36 522.18 541.26 577.57 601.44 626.79" y="0" fill="#000000" stroke="#000000" font-size="40">2<tspan font-size="26" dy="-13.10">nd</tspan><tspan dy="13.10"> Piola-Kirchhoff stress S (MPa)</tspan></text>
</g>
</svg>
</body>
</html>
